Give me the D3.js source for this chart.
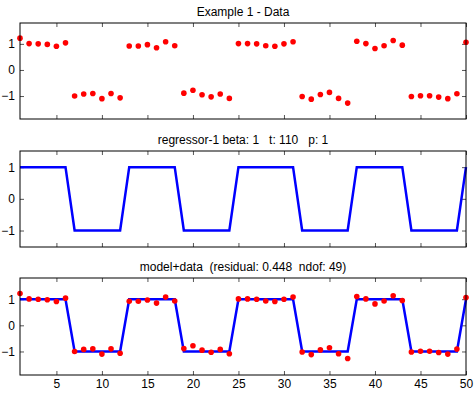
<!DOCTYPE html>
<html>
<head>
<meta charset="utf-8">
<script src="https://cdn.jsdelivr.net/npm/d3@7"></script>
<style>
body { margin: 0; background: #fff; }
#vis { width: 475px; height: 393px; }
text { font-family: "Liberation Sans", Arial, sans-serif; fill: #000; white-space: pre; }
</style>
</head>
<body>
<div id="vis"></div>
<script>
// scan index 1..50
var scans = d3.range(1, 51);

// measured data (red dots)
var dataValues = [
  1.22, 1.01, 1.00, 0.98, 0.91, 1.04, -1.00, -0.92, -0.90, -1.10,
  -0.90, -1.07, 0.92, 0.92, 0.97, 0.85, 1.08, 0.93, -0.89, -0.78,
  -0.95, -1.03, -0.92, -1.09, 1.01, 1.01, 1.00, 0.93, 0.91, 1.00,
  1.08, -1.02, -1.12, -0.94, -0.86, -1.09, -1.27, 1.10, 1.01, 0.82,
  0.93, 1.13, 0.95, -1.02, -0.99, -0.99, -1.04, -1.10, -0.91, 1.06
];

// regressor (blue line)
var regressor = [
  1, 1, 1, 1, 1, 1, -1, -1, -1, -1,
  -1, -1, 1, 1, 1, 1, 1, 1, -1, -1,
  -1, -1, -1, -1, 1, 1, 1, 1, 1, 1,
  1, -1, -1, -1, -1, -1, -1, 1, 1, 1,
  1, 1, 1, -1, -1, -1, -1, -1, -1, 1
];

var xTicks = [5, 10, 15, 20, 25, 30, 35, 40, 45, 50];
var yTicks = [-1, 0, 1];

var titles = [
  "Example 1 - Data",
  "regressor-1 beta: 1   t: 110   p: 1",
  "model+data  (residual: 0.448  ndof: 49)"
];

var width = 475, height = 393;
var left = 20, right = 466;

var panels = [
  { top: 23, bottom: 119, ydom: [-1.88, 1.8], dots: true, line: false, labels: false },
  { top: 151, bottom: 247, ydom: [-1.52, 1.51], dots: false, line: true, labels: false },
  { top: 278, bottom: 375, ydom: [-1.9, 1.81], dots: true, line: true, labels: true }
];

var svg = d3.select("#vis")
  .append("svg")
  .attr("width", width)
  .attr("height", height);

var xscale = d3.scaleLinear().domain([1, 50]).range([left, right]);

panels.forEach(function(p, i) {
  var yscale = d3.scaleLinear().domain(p.ydom).range([p.bottom, p.top]);
  var g = svg.append("g");

  // title
  g.append("text")
    .attr("x", (left + right) / 2)
    .attr("y", p.top - 7)
    .attr("text-anchor", "middle")
    .attr("xml:space", "preserve")
    .style("font-size", "12px")
    .text(titles[i]);

  // ticks (inward, on all four sides)
  var xb = d3.axisBottom(xscale).tickValues(xTicks).tickSizeInner(-4).tickSizeOuter(0)
    .tickFormat(p.labels ? d3.format("d") : "");
  var xt = d3.axisTop(xscale).tickValues(xTicks).tickSizeInner(-4).tickSizeOuter(0).tickFormat("");
  var yl = d3.axisLeft(yscale).tickValues(yTicks).tickSizeInner(-4).tickSizeOuter(0).tickFormat(d3.format("d"));
  var yr = d3.axisRight(yscale).tickValues(yTicks).tickSizeInner(-4).tickSizeOuter(0).tickFormat("");

  var ax = [
    g.append("g").attr("transform", "translate(0," + p.bottom + ")").call(xb),
    g.append("g").attr("transform", "translate(0," + p.top + ")").call(xt),
    g.append("g").attr("transform", "translate(" + left + ",0)").call(yl),
    g.append("g").attr("transform", "translate(" + right + ",0)").call(yr)
  ];
  ax.forEach(function(a) {
    a.select(".domain").remove();
    a.selectAll(".tick line").attr("stroke", "#555");
    a.selectAll(".tick text")
      .style("font-family", "'Liberation Sans', Arial, sans-serif")
      .style("font-size", "12px")
      .attr("fill", "#000");
  });
  ax[0].selectAll(".tick text").attr("y", 4).attr("dy", "0.71em");
  ax[2].selectAll(".tick text").attr("x", -5);

  // line
  if (p.line) {
    var line = d3.line()
      .x(function(d, j) { return xscale(scans[j]); })
      .y(function(d) { return yscale(d); });
    g.append("path")
      .datum(regressor)
      .attr("d", line)
      .attr("fill", "none")
      .attr("stroke", "#0000ff")
      .attr("stroke-width", 2.5)
      .attr("stroke-linejoin", "miter");
  }

  // dots
  if (p.dots) {
    g.selectAll(".dot")
      .data(dataValues)
      .enter()
      .append("circle")
      .attr("class", "dot")
      .attr("cx", function(d, j) { return xscale(scans[j]); })
      .attr("cy", function(d) { return yscale(d); })
      .attr("r", 2.8)
      .attr("fill", "#ff0000");
  }

  // box
  g.append("rect")
    .attr("x", left)
    .attr("y", p.top)
    .attr("width", right - left)
    .attr("height", p.bottom - p.top)
    .attr("fill", "none")
    .attr("stroke", "#000")
    .attr("stroke-width", 1);
});
</script>
</body>
</html>
